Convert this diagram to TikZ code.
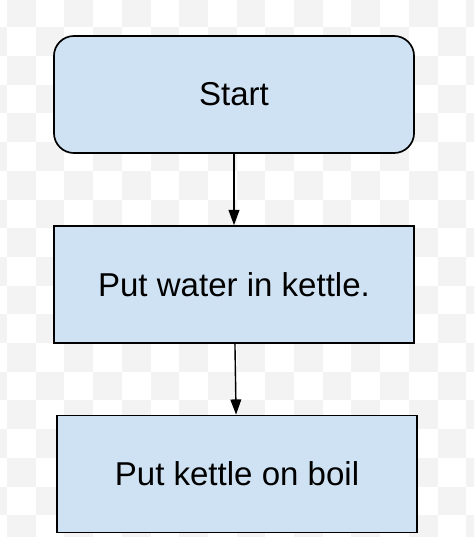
\documentclass[tikz,border=0pt]{standalone}
\usepackage{fontspec}
\setmainfont{Liberation Sans}
\usepackage{xcolor}
\usepackage{tikz}
\usetikzlibrary{arrows.meta,positioning}
\definecolor{boxblue}{HTML}{CFE2F3}
\definecolor{checkgray}{HTML}{F3F3F3}

\begin{document}
\begin{tikzpicture}[
  x=0.025cm, y=-0.025cm,
  every node/.style={font=\fontsize{23.5}{28}\selectfont},
  box/.style={rectangle, draw, line width=1.2pt, fill=boxblue, minimum width=9cm, minimum height=2.925cm, align=center},
  arr/.style={-{Triangle[length=3.8mm,width=2.7mm]}, line width=1pt},
]

\useasboundingbox (0,0) rectangle (474,537);
\fill[white] (0,0) rectangle (474,537);
\begin{scope}
\clip (0,0) rectangle (474,537);
\foreach \i in {0,...,17}{
  \foreach \j in {0,...,18}{
    \pgfmathtruncatemacro\odd{mod(\i+\j,2)}
    \ifnum\odd=1
      \fill[checkgray] (-21.7+\i*28.7,-1.4+\j*28.7) rectangle ++(28.7,28.7);
    \fi
  }
}
\end{scope}

\node[box, rounded corners=0.5cm] (start) at (234, 94.5) {Start};
\node[box] (water) at (234, 284.5) {Put water in kettle.};
\node[box] (boil) at (237, 474) {Put kettle on boil};

\draw[arr] (start) -- (water);
\draw[arr] (water) -- (boil);

\end{tikzpicture}
\end{document}
